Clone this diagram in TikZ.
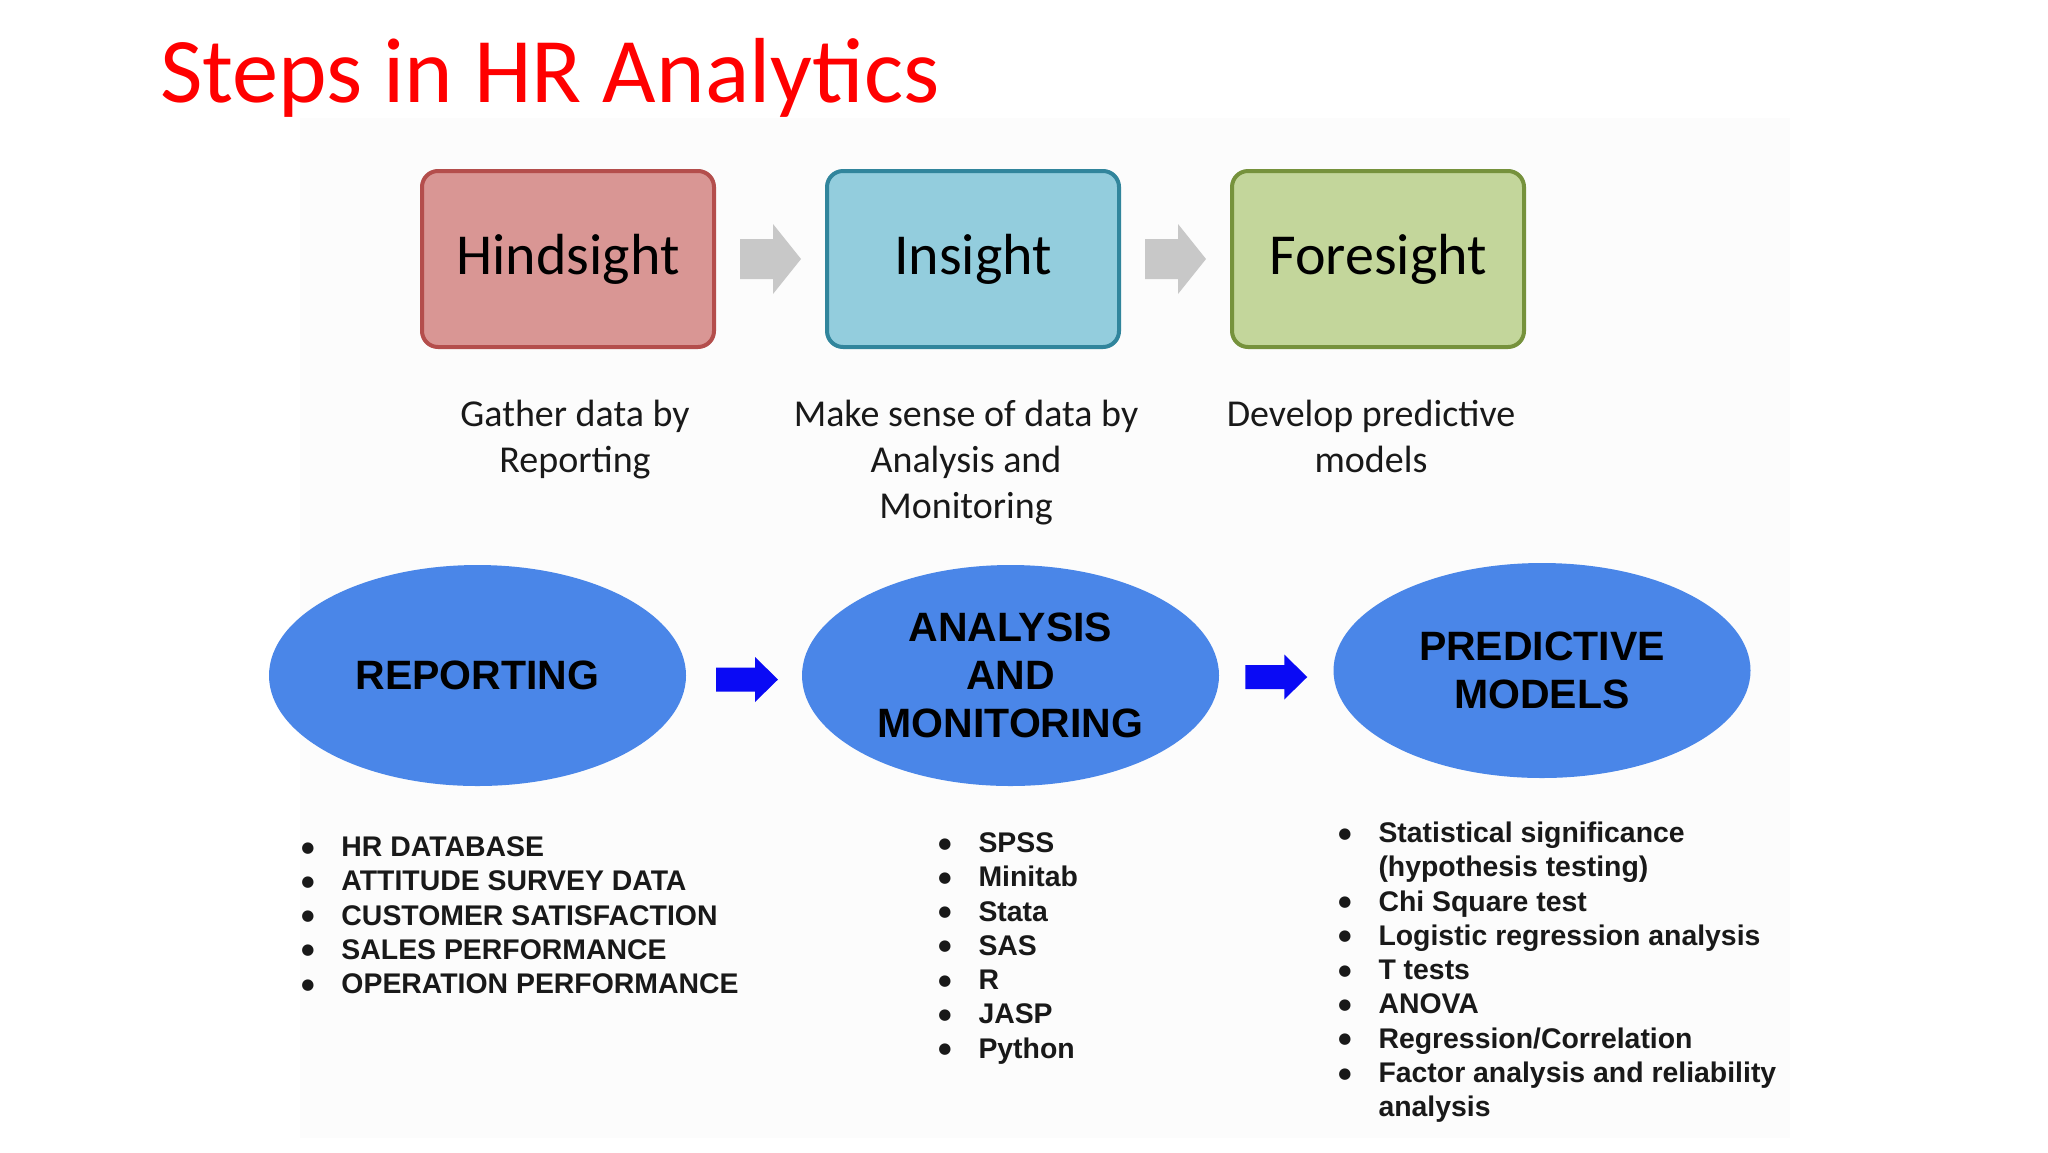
\documentclass[tikz,border=0pt]{standalone}
\usepackage{fontspec}
\setmainfont{Carlito}
\newfontfamily\arialfont{Liberation Sans}
\newfontfamily\dejavufont{DejaVu Sans}
\usetikzlibrary{shapes.geometric,calc}
\definecolor{titlered}{RGB}{255,0,0}
\definecolor{hindfill}{RGB}{217,150,148}
\definecolor{hinddraw}{RGB}{180,78,76}
\definecolor{insfill}{RGB}{147,205,221}
\definecolor{insdraw}{RGB}{49,133,156}
\definecolor{forefill}{RGB}{195,214,155}
\definecolor{foredraw}{RGB}{118,146,60}
\definecolor{ellblue}{RGB}{74,134,232}
\definecolor{arrgray}{RGB}{200,200,200}
\definecolor{arrblue}{RGB}{10,10,245}
\definecolor{panel}{RGB}{252,252,252}
\definecolor{txt}{RGB}{25,25,25}
\newcommand\myblt{{\dejavufont\fontsize{7.5}{7.5}\selectfont\raisebox{2.2pt}{●}}}
\tikzset{
  stepbox/.style={rectangle, rounded corners=8pt, line width=2pt,
    minimum width=146pt, minimum height=88pt, inner sep=0pt,
    font=\fontsize{29}{33}\selectfont, text=black},
  desc/.style={anchor=north, align=center, inner sep=0pt, text=txt,
    font=\fontsize{19}{22.9}\selectfont},
  ellnode/.style={ellipse, fill=ellblue, inner sep=0pt,
    minimum width=208.5pt, minimum height=110.5pt, align=center,
    font=\arialfont\bfseries\fontsize{20.5}{24}\selectfont, text=black},
  listtext/.style={anchor=north west, inner sep=0pt, text=txt,
    font=\arialfont\bfseries\fontsize{14.2}{17.15}\selectfont},
  grayarrow/.style={fill=arrgray},
  bluearrow/.style={fill=arrblue}
}
\begin{document}
\begin{tikzpicture}[x=0.5pt,y=-0.5pt]
\useasboundingbox (0,0) rectangle (2048,1152);
\fill[white] (0,0) rectangle (2048,1152);
\fill[panel] (300,118) rectangle (1790,1138);

% title
\node[anchor=base west, inner sep=0pt, text=titlered,
      font=\fontsize{46.2}{55}\selectfont] (title) at (160,102) {Steps in HR Analytics};

% top boxes
\node[stepbox, fill=hindfill, draw=hinddraw] (hind) at (568,259) {\raisebox{-1.5pt}{Hindsight}};
\node[stepbox, fill=insfill, draw=insdraw] (ins) at (973,259) {\raisebox{-1.5pt}{Insight}};
\node[stepbox, fill=forefill, draw=foredraw] (fore) at (1378,259) {\raisebox{-1.5pt}{Foresight}};

% gray block arrows
\coordinate (g1) at ($(hind.east)!0.5!(ins.west)$);
\coordinate (g2) at ($(ins.east)!0.5!(fore.west)$);
\foreach \c in {g1,g2}{
  \fill[grayarrow] (\c) ++(-30.5,-20) -- ++(33,0) -- ++(0,-15) -- ++(28,35)
     -- ++(-28,35) -- ++(0,-15) -- ++(-33,0) -- cycle;
}

% descriptions
\node[desc] (d1) at (575,400) {Gather data by\\Reporting};
\node[desc] (d2) at (966,400) {Make sense of data by\\Analysis and\\Monitoring};
\node[desc] (d3) at (1371,400) {Develop predictive\\models};

% ellipses
\node[ellnode] (rep) at (477.5,675.5) {REPORTING};
\node[ellnode] (ana) at (1010.5,675.5) {ANALYSIS\\AND\\MONITORING};
\node[ellnode, minimum height=107.5pt] (pre) at (1542,670.5) {PREDICTIVE\\MODELS};

% blue block arrows
\coordinate (b1) at ($(rep.east)!0.5!(ana.west)+(3,4)$);
\coordinate (b2) at ($(ana.east)!0.5!(pre.west)+(0,4)$);
\foreach \c in {b1,b2}{
  \fill[bluearrow] (\c) ++(-31,-12) -- ++(39,0) -- ++(0,-10.5) -- ++(23,22.5)
     -- ++(-23,22.5) -- ++(0,-10.5) -- ++(-39,0) -- cycle;
}

% lists
\node[listtext] (l1) at (301,832) {\begin{tabular}{@{}l@{\hspace{13.5pt}}l@{}}
\myblt&HR DATABASE\\
\myblt&ATTITUDE SURVEY DATA\\
\myblt&CUSTOMER SATISFACTION\\
\myblt&SALES PERFORMANCE\\
\myblt&OPERATION PERFORMANCE
\end{tabular}};

\node[listtext] (l2) at (938,828) {\begin{tabular}{@{}l@{\hspace{13.5pt}}l@{}}
\myblt&SPSS\\
\myblt&Minitab\\
\myblt&Stata\\
\myblt&SAS\\
\myblt&R\\
\myblt&JASP\\
\myblt&Python
\end{tabular}};

\node[listtext] (l3) at (1338,818) {\begin{tabular}{@{}l@{\hspace{13.5pt}}l@{}}
\myblt&Statistical significance\\
&(hypothesis testing)\\
\myblt&Chi Square test\\
\myblt&Logistic regression analysis\\
\myblt&T tests\\
\myblt&ANOVA\\
\myblt&Regression/Correlation\\
\myblt&Factor analysis and reliability\\
&analysis
\end{tabular}};
\end{tikzpicture}
\end{document}
